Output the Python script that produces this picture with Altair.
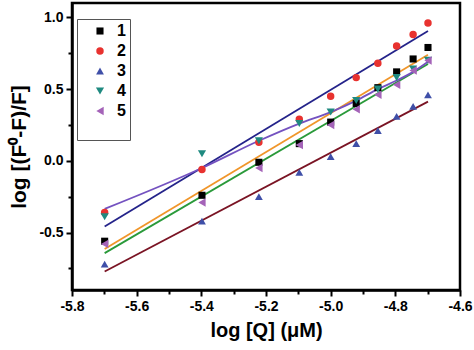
import altair as alt
import pandas as pd

# ---- data ----
log_q = [-5.699, -5.398, -5.222, -5.097, -5.0, -4.921, -4.854, -4.796, -4.745, -4.699]
s1 = [-0.56, -0.24, -0.01, 0.12, 0.27, 0.40, 0.51, 0.62, 0.71, 0.79]
s2 = [-0.36, -0.06, 0.13, 0.29, 0.45, 0.58, 0.68, 0.80, 0.88, 0.96]
s3 = [-0.72, -0.42, -0.25, -0.08, 0.03, 0.12, 0.21, 0.31, 0.38, 0.46]
s4 = [-0.39, 0.05, 0.14, 0.26, 0.34, 0.42, 0.50, 0.58, 0.64, 0.70]
s5 = [-0.58, -0.29, -0.05, 0.11, 0.25, 0.36, 0.46, 0.53, 0.63, 0.70]
series_names = ["1", "2", "3", "4", "5"]
point_colors = ["#000000", "#e8322f", "#3f4fa8", "#1f8a80", "#a463b8"]
point_shapes = ["square", "circle", "triangle-up", "triangle-down", "triangle-left"]
point_sizes = [50, 72, 130, 130, 130]

# fitted lines (start/end values at the first/last concentration)
fit_x = [-5.699, -4.699]
fit1 = [-0.615, 0.74]   # orange
fit2 = [-0.457, 0.905]  # navy
fit3 = [-0.771, 0.413]  # dark red
fit5 = [-0.643, 0.675]  # green
# curved fit for series 4 (purple), read at each concentration
fit4 = [-0.335, -0.05, 0.14, 0.26, 0.34, 0.42, 0.50, 0.56, 0.62, 0.69]
fit_colors = {"f1": "#f0962a", "f2": "#24238a", "f3": "#7a1424", "f4": "#7452c0", "f5": "#2a9a3a"}

x_ticks = [-5.8, -5.7, -5.6, -5.5, -5.4, -5.3, -5.2, -5.1, -5.0, -4.9, -4.8, -4.7, -4.6]
y_ticks = [-0.75, -0.5, -0.25, 0.0, 0.25, 0.5, 0.75, 1.0]

# ---- tables ----
pts = pd.DataFrame(
    [(x, v, n) for n, s in zip(series_names, [s1, s2, s3, s4, s5]) for x, v in zip(log_q, s)],
    columns=["x", "y", "series"],
)
fit_tables = {
    "f1": pd.DataFrame({"x": fit_x, "y": fit1}),
    "f2": pd.DataFrame({"x": fit_x, "y": fit2}),
    "f3": pd.DataFrame({"x": fit_x, "y": fit3}),
    "f4": pd.DataFrame({"x": log_q, "y": fit4}),
    "f5": pd.DataFrame({"x": fit_x, "y": fit5}),
}

FONT = "Liberation Sans"

x_enc = alt.X(
    "x:Q",
    scale=alt.Scale(domain=[-5.8, -4.6], nice=False, zero=False),
    axis=alt.Axis(
        title="log [Q] (\u03bcM)",
        values=x_ticks,
        labelExpr="abs(round(datum.value*10)) % 2 == 0 ? replace(format(datum.value, '.1f'), '\u2212', '-') : ''",
        tickSize=alt.condition("abs(round(datum.value*10)) % 2 == 0", alt.value(6), alt.value(4)),
        labelFlush=False,
        labelPadding=3,
        titlePadding=7,
    ),
)
y_enc = alt.Y(
    "y:Q",
    scale=alt.Scale(domain=[-0.9, 1.1], nice=False, zero=False),
    axis=alt.Axis(
        title="log [(F\u2070-F)/F]",
        titleFontSize=21,
        values=y_ticks,
        labelExpr="abs(round(datum.value*4)) % 2 == 0 ? replace(format(datum.value, '.1f'), '\u2212', '-') : ''",
        tickSize=alt.condition("abs(round(datum.value*4)) % 2 == 0", alt.value(6), alt.value(4)),
        labelFlush=False,
        labelPadding=3,
        titlePadding=9,
    ),
)

line_layers = []
for name in ["f1", "f2", "f3", "f5", "f4"]:
    line_layers.append(
        alt.Chart(fit_tables[name])
        .mark_line(strokeWidth=1.8, interpolate="monotone", color=fit_colors[name])
        .encode(x=x_enc, y=y_enc)
    )

legend = alt.Legend(
    title=" ",
    titleOrient="bottom",
    titleFontSize=12,
    titlePadding=6,
    orient="none",
    legendX=5,
    legendY=16,
    strokeColor="#555555",
    padding=4,
    symbolOffset=11,
    labelOffset=9,
    rowPadding=4,
    labelFontSize=16,
    labelFont=FONT,
    labelFontWeight="bold",
    symbolStrokeWidth=0,
    fillColor="white",
)

points = alt.Chart(pts).mark_point(filled=True, opacity=1).encode(
    x=x_enc,
    y=y_enc,
    color=alt.Color("series:N", scale=alt.Scale(domain=series_names, range=point_colors), legend=legend),
    shape=alt.Shape("series:N", scale=alt.Scale(domain=series_names, range=point_shapes), legend=legend),
    size=alt.Size("series:N", scale=alt.Scale(domain=series_names, range=point_sizes), legend=legend),
)

chart = (
    alt.layer(*line_layers, points)
    .properties(
        width=388,
        height=287,
        padding={"left": 72, "top": 3, "right": 14, "bottom": 60},
        autosize=alt.AutoSizeParams(type="none"),
        background="white",
    )
    .configure_view(stroke="black", strokeWidth=2.5)
    .configure_axis(
        grid=False,
        domainColor="black",
        domainWidth=2.5,
        tickColor="black",
        tickWidth=2,
        labelFont=FONT,
        labelFontSize=14,
        labelFontWeight="bold",
        labelColor="black",
        titleFont=FONT,
        titleFontSize=20,
        titleFontWeight="bold",
        titleColor="black",
    )
)

chart.save("out.html", embed_options={"renderer": "svg", "actions": False})
